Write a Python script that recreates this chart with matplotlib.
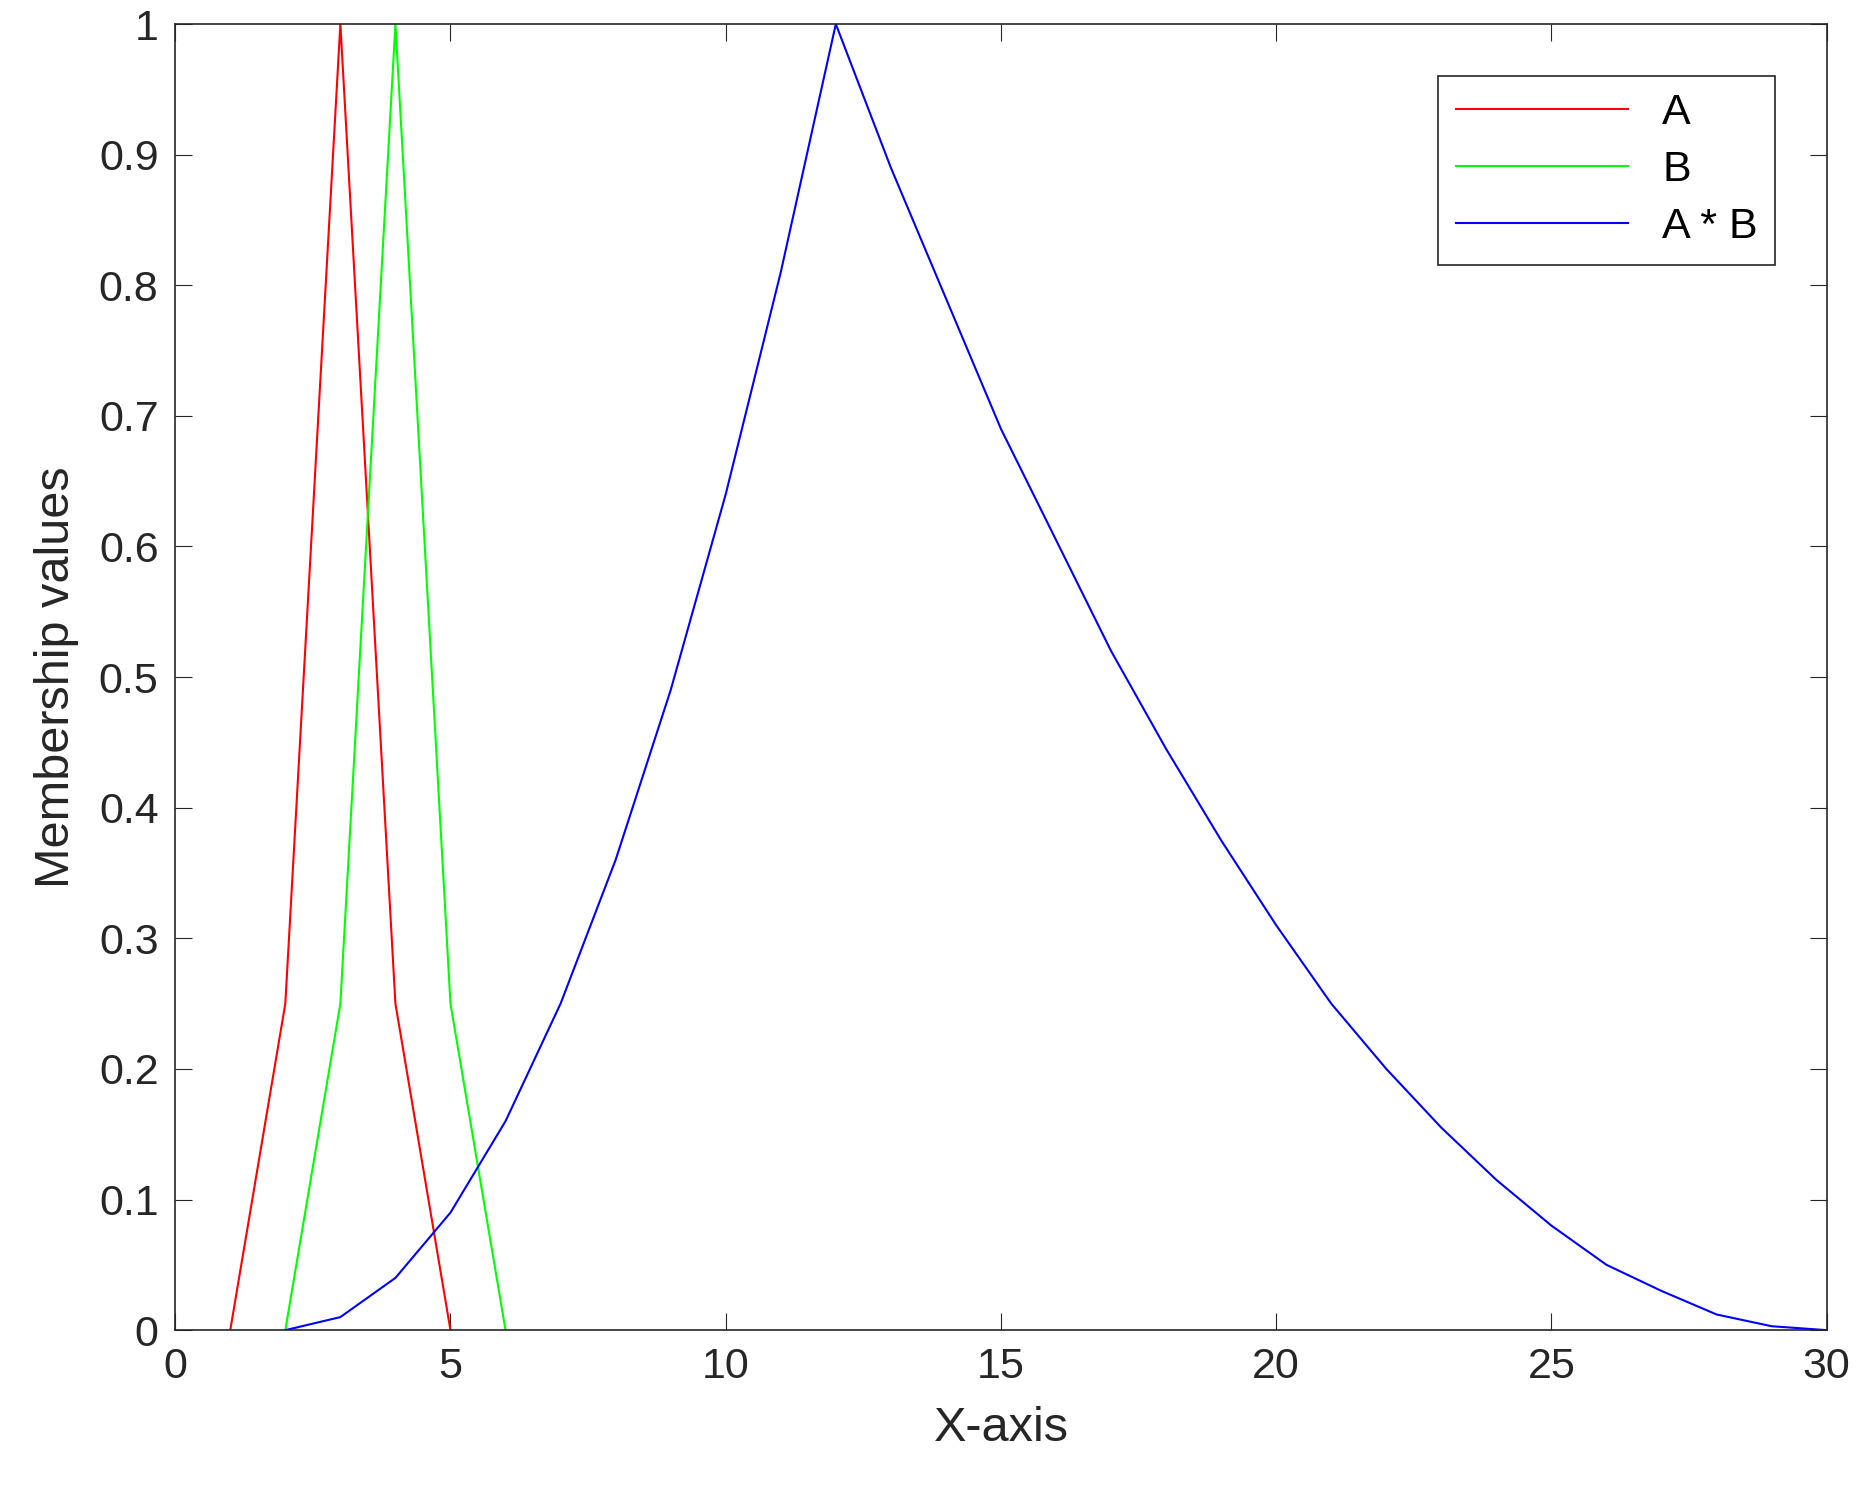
import matplotlib.pyplot as plt

# 数据
x_a = [1, 2, 3, 4, 5]
mu_a = [0, 0.25, 1, 0.25, 0]
x_b = [2, 3, 4, 5, 6]
mu_b = [0, 0.25, 1, 0.25, 0]
x_ab = list(range(2, 31))
mu_ab = [0, 0.01, 0.04, 0.09, 0.16, 0.25, 0.36, 0.49, 0.64, 0.81, 1.0,
         0.89, 0.79, 0.69, 0.605, 0.52, 0.445, 0.375, 0.31, 0.25, 0.2,
         0.155, 0.115, 0.08, 0.05, 0.03, 0.012, 0.003, 0]

plt.rcParams['font.family'] = ['Liberation Sans', 'DejaVu Sans']
fig = plt.figure(figsize=(18.64, 15.03), dpi=100)
ax = fig.add_axes([0.094, 0.115, 0.886, 0.869])
ax.plot(x_a, mu_a, color='#ff0000', lw=1.5, label='A')
ax.plot(x_b, mu_b, color='#00ff00', lw=1.5, label='B')
ax.plot(x_ab, mu_ab, color='#0000ff', lw=1.5, label='A * B')

ax.set_xlim(0, 30)
ax.set_ylim(0, 1)
ax.set_xticks(range(0, 31, 5))
ax.set_yticks([i / 10 for i in range(11)])
ax.set_yticklabels(['0'] + [f'{i/10:.1f}' for i in range(1, 10)] + ['1'])
ax.tick_params(direction='in', top=True, right=True, labelsize=31, length=12,
               pad=12, colors='#262626')
for s in ax.spines.values():
    s.set_color('#262626')
    s.set_linewidth(1.2)
ax.set_xlabel('X-axis', fontsize=35, color='#262626', labelpad=14)
ax.set_ylabel('Membership values', fontsize=35, color='#262626', labelpad=14)
leg = ax.legend(loc='upper right', fontsize=31, fancybox=False, framealpha=1,
                edgecolor='#262626', handlelength=4, borderaxespad=1.2,
                labelspacing=0.4)
leg.get_frame().set_linewidth(1.2)
fig.savefig('out.png', dpi=100)
